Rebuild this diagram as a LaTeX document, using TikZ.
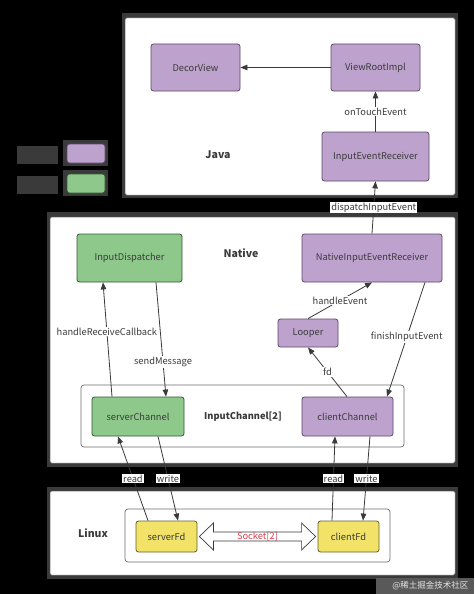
\documentclass[tikz,border=0pt]{standalone}
\usepackage{fontspec}
\setmainfont{Noto Sans CJK SC}
\usetikzlibrary{arrows.meta,calc}
\definecolor{purfill}{RGB}{190,162,206}
\definecolor{purline}{RGB}{92,72,104}
\definecolor{grnfill}{RGB}{142,200,138}
\definecolor{grnline}{RGB}{52,88,52}
\definecolor{yelfill}{RGB}{242,226,104}
\definecolor{yelline}{RGB}{100,94,44}
\definecolor{txtcol}{RGB}{58,58,58}
\definecolor{bandgray}{RGB}{58,58,58}
\definecolor{frameline}{RGB}{110,110,110}
\definecolor{sockred}{RGB}{214,64,80}
\tikzset{
  x=1pt, y=-1pt,
  box/.style={draw, rounded corners=2.5pt, line width=0.8pt, text=txtcol, font=\fontsize{9.3}{11}\selectfont, inner sep=0pt},
  pur/.style={box, fill=purfill, draw=purline},
  grn/.style={box, fill=grnfill, draw=grnline},
  yel/.style={box, fill=yelfill, draw=yelline},
  lbl/.style={fill=white, text=txtcol, inner sep=1pt, font=\fontsize{9.3}{11}\selectfont},
  title/.style={text=txtcol, font=\fontsize{10.5}{12}\selectfont\bfseries},
  arr/.style={draw=txtcol, line width=0.8pt, -{Triangle[length=7pt,width=5.5pt]}},
  band/.style={fill=bandgray},
  panel/.style={fill=white, draw=frameline, line width=0.5pt, rounded corners=1.5pt},
  group/.style={fill=white, draw=frameline, line width=0.7pt, rounded corners=3pt},
}
\begin{document}
\begin{tikzpicture}
\useasboundingbox[fill=black] (0,0) rectangle (474,594);
% legend
\fill[bandgray] (17,146) rectangle (58,164);
\fill[bandgray] (17,176) rectangle (58,194);
\fill[bandgray] (63,140) rectangle (108,166);
\fill[bandgray] (63,170) rectangle (108,196);
\node[pur, minimum width=38pt, minimum height=19pt] (legpur) at (86,153.5) {};
\node[grn, minimum width=38pt, minimum height=19pt] (leggrn) at (86,183.5) {};
% frames
\fill[band] (122,13) rectangle (458,198);
\draw[panel] (125,18) rectangle (455,195);
\fill[band] (47,212) rectangle (458,467);
\draw[panel] (50,217) rectangle (455,463);
\fill[band] (47,487) rectangle (458,579);
\draw[panel] (50,491) rectangle (455,575);
% groups
\draw[group] (81,385) rectangle (404,447);
\draw[group] (125,509) rectangle (390,562);
% titles
\node[title] (tjava) at (218,155) {Java};
\node[title] (tnative) at (241,253) {Native};
\node[title] (tlinux) at (93,533) {Linux};
\node[title, font=\fontsize{9.3}{11}\selectfont\bfseries] (tic) at (243,417) {InputChannel[2]};
% Java nodes
\node[pur, minimum width=89pt, minimum height=47pt] (dv) at (195.5,67.5) {DecorView};
\node[pur, minimum width=89pt, minimum height=47pt] (vri) at (375.5,67.5) {ViewRootImpl};
\node[pur, minimum width=107pt, minimum height=49pt] (ier) at (375.5,156.5) {InputEventReceiver};
% Native nodes
\node[grn, minimum width=105pt, minimum height=48pt] (idisp) at (129.5,258) {InputDispatcher};
\node[pur, minimum width=140pt, minimum height=48pt] (nier) at (372,258) {NativeInputEventReceiver};
\node[pur, minimum width=60pt, minimum height=28pt] (looper) at (308,333) {Looper};
\node[grn, minimum width=92pt, minimum height=39pt] (sch) at (138,416.5) {serverChannel};
\node[pur, minimum width=91pt, minimum height=39pt] (cch) at (347.5,416.5) {clientChannel};
% Linux nodes
\node[yel, minimum width=61pt, minimum height=31pt] (sfd) at (166.5,536.5) {serverFd};
\node[yel, minimum width=61pt, minimum height=31pt] (cfd) at (348.5,536.5) {clientFd};
% socket double arrow
\coordinate (sl) at ($(sfd.east)+(2,0)$);
\coordinate (sr) at ($(cfd.west)+(-2,0)$);
\draw[txtcol, fill=white, line width=0.7pt]
  (sl) -- ++(14,-13.5) -- ++(0,9) -- ($(sr)+(-14,-4.5)$) -- ++(0,-9) -- (sr)
  -- ++(-14,13.5) -- ++(0,-9) -- ($(sl)+(14,4.5)$) -- ++(0,9) -- cycle;
\node[text=sockred, font=\fontsize{9.3}{11}\selectfont] (sock) at ($(sl)!0.5!(sr)$) {Socket[2]};
% Java edges
\draw[arr] (vri.west) -- (dv.east);
\draw[arr] (ier.north) -- node[lbl] {onTouchEvent} (vri.south);
\draw[arr] (nier.north) -- node[lbl] {dispatchInputEvent} (ier.south);
% Native edges
\draw[arr] ([xshift=-26pt]sch.north) -- node[lbl, pos=0.57] {handleReceiveCallback} ([xshift=-26.5pt]idisp.south);
\draw[arr] ([xshift=26.5pt]idisp.south) -- node[lbl, pos=0.7] {sendMessage} ([xshift=28pt]sch.north);
\draw[arr] (looper.north) -- node[lbl] {handleEvent} (nier.south);
\draw[arr] ([xshift=53pt]nier.south) -- node[lbl, pos=0.48] {finishInputEvent} ([xshift=39.5pt]cch.north);
\draw[arr] ([xshift=-0.5pt]cch.north) -- node[lbl, pos=0.5] {fd} (looper.south);
% channel <-> fd
\draw[arr] ([xshift=-18.5pt]sfd.north) -- node[lbl, pos=0.5] {read} ([xshift=-20pt]sch.south);
\draw[arr] ([xshift=20pt]sch.south) -- node[lbl, pos=0.5] {write} ([xshift=11.5pt]sfd.north);
\draw[arr] ([xshift=-16.5pt]cfd.north) -- node[lbl, pos=0.5] {read} ([xshift=-12.5pt]cch.south);
\draw[arr] ([xshift=22.5pt]cch.south) -- node[lbl, pos=0.5] {write} ([xshift=14.5pt]cfd.north);
% watermark
\fill[gray!70!black] (376,578) rectangle (474,594);
\node[text=white!80!gray, font=\fontsize{8.5}{10}\selectfont, anchor=east] (wm) at (472,586) {@稀土掘金技术社区};
\end{tikzpicture}
\end{document}
